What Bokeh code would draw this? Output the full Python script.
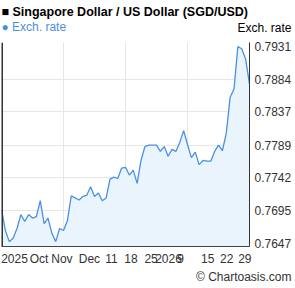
from bokeh.plotting import figure
from bokeh.models import Range1d, FixedTicker, Label, Span, NumeralTickFormatter
from bokeh.embed import file_html
from bokeh.resources import INLINE

rates = [0.7697, 0.7666, 0.7650, 0.7655, 0.7669, 0.7689, 0.7679, 0.7689, 0.7684, 0.7686,
         0.7709, 0.7676, 0.7684, 0.7662, 0.7650, 0.7669, 0.7666, 0.7680, 0.7716, 0.7713,
         0.7710, 0.7715, 0.7717, 0.7729, 0.7715, 0.7720, 0.7709, 0.7713, 0.7740, 0.7743,
         0.7741, 0.7756, 0.7757, 0.7746, 0.7753, 0.7734, 0.7767, 0.7787, 0.7789, 0.7789,
         0.7789, 0.7780, 0.7787, 0.7773, 0.7783, 0.7780, 0.7793, 0.7810, 0.7790, 0.7771,
         0.7779, 0.7761, 0.7767, 0.7766, 0.7766, 0.7780, 0.7789, 0.7781, 0.7806, 0.7858,
         0.7870, 0.7931, 0.7928, 0.7913, 0.7877]

x_tick_labels = ["2025", "Oct", "Nov", "Dec", "11", "18", "25", "2026", "9", "15", "22", "29"]
x_tick_index = [3.35, 9.7, 15.6, 22.7, 28.4, 33.4, 38.6, 43.1, 46.2, 53.2, 58.1, 62.8]
y_ticks = [0.7647, 0.7695, 0.7742, 0.7789, 0.7837, 0.7884, 0.7931]

n = len(rates)
idx = list(range(n))
FONT = "Liberation Sans"

p = figure(width=295, height=288, output_backend="svg", toolbar_location=None,
           x_range=Range1d(0, n - 1), y_range=Range1d(0.7643, 0.7937),
           y_axis_location="right",
           min_border_left=1, min_border_right=46, min_border_top=40, min_border_bottom=42)
p.outline_line_color = None
p.background_fill_color = "white"
p.border_fill_color = "white"

p.varea(x=idx, y1=0.76, y2=rates, fill_color="#eaf4fd")
p.line(x=idx, y=rates, line_color="#4a90e2", line_width=1.3)

p.xgrid.ticker = FixedTicker(ticks=[(n - 1) * k / 4 for k in (1, 2, 3)])
p.ygrid.ticker = FixedTicker(ticks=y_ticks[1:-1])
for g in (p.xgrid, p.ygrid):
    g.grid_line_color = "#e6e6e6"
    g.grid_line_width = 1

ya = p.yaxis[0]
ya.ticker = FixedTicker(ticks=y_ticks)
ya.formatter = NumeralTickFormatter(format="0.0000")
ya.major_tick_in = 0
ya.major_tick_out = 0
ya.minor_tick_in = 0
ya.minor_tick_out = 0
ya.major_label_standoff = 5
ya.major_label_text_font = FONT
ya.major_label_text_font_size = "12px"
ya.major_label_text_color = "#333333"
ya.axis_line_color = "#333333"

xa = p.xaxis[0]
xa.ticker = FixedTicker(ticks=x_tick_index)
xa.major_label_overrides = {t: l for t, l in zip(x_tick_index, x_tick_labels)}
xa.major_tick_in = 0
xa.major_tick_out = 0
xa.minor_tick_in = 0
xa.minor_tick_out = 0
xa.major_label_standoff = 5
xa.major_label_text_font = FONT
xa.major_label_text_font_size = "12px"
xa.major_label_text_color = "#333333"
xa.axis_line_color = "#444444"

p.add_layout(Span(location=0, dimension="height", line_color="#333333", line_width=3))

def lab(text, cx, cy, place, color="#000000", size="12px", style="normal", align="left", font=FONT):
    p.add_layout(Label(x=cx, y=cy, x_units="canvas", y_units="canvas",
                       text=text, text_color=color, text_font_size=size,
                       text_font_style=style, text_align=align, text_baseline="middle",
                       text_font=font, text_line_height=1.0), place)

lab("■ Singapore Dollar / US Dollar (SGD/USD)", 1, 11, "above", size="12.5px", style="bold")
lab("● Exch. rate", 1, 26, "above", color="#4a90e2")
lab("Exch. rate", 291, 27, "above", align="right")
lab("© Chartoasis.com", 291, 276, "below", color="#333333", align="right")

open("out.html", "w").write(file_html(p, INLINE))
